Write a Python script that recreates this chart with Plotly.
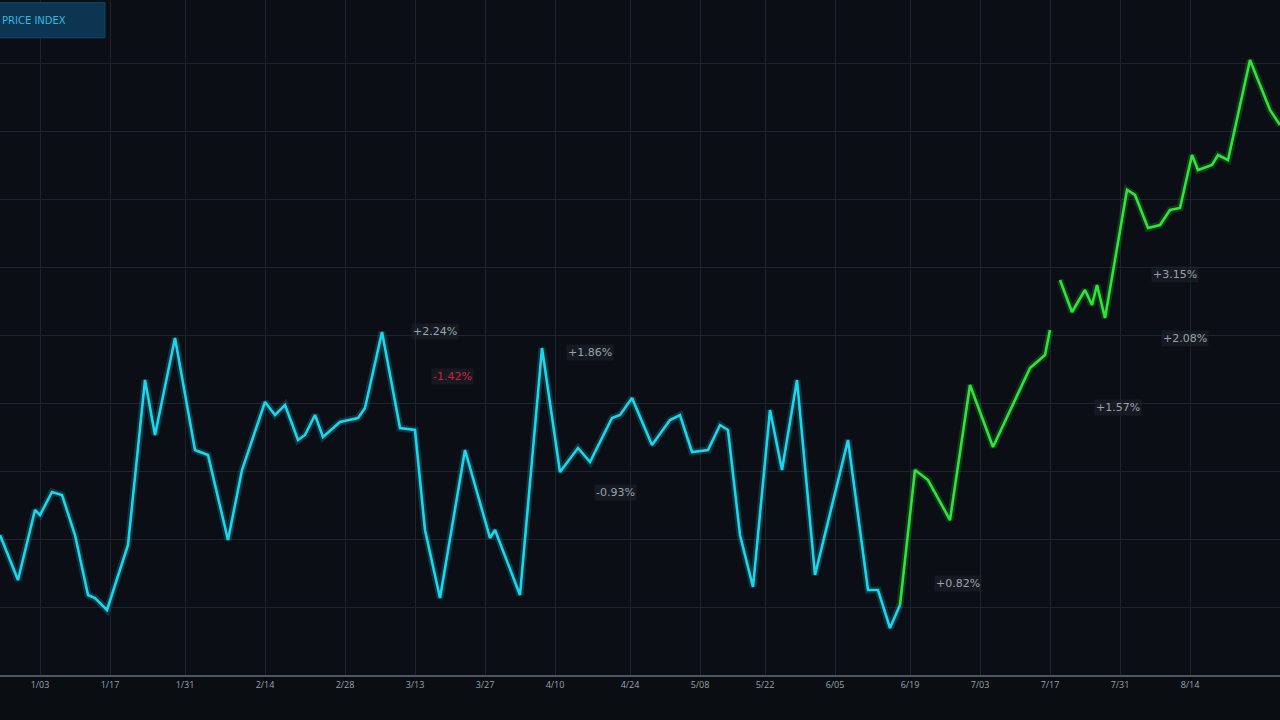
import plotly.graph_objects as go

cyan_x = [0,18,35,40,52,62,75,88,95,107,128,145,155,175,195,208,228,242,265,275,285,298,305,315,323,340,358,365,382,400,415,425,440,465,490,495,520,542,560,578,590,612,620,632,652,670,680,692,708,720,728,740,753,770,782,797,815,848,868,878,890,900]
cyan_y = [140,95,165,160,183,180,140,80,77,65,130,295,240,337,225,220,135,205,273,260,270,235,240,260,238,253,257,267,343,247,245,145,77,225,137,145,80,327,203,227,213,257,260,277,230,255,260,223,225,250,245,140,88,265,205,295,100,235,85,85,47,70]
green_a_x = [900,915,928,950,970,993,1030,1045,1050]
green_a_y = [70,205,195,155,290,228,307,320,345]
green_b_x = [1060,1072,1085,1092,1097,1105,1127,1135,1148,1160,1170,1180,1192,1198,1212,1218,1228,1250,1270,1280]
green_b_y = [395,363,385,370,390,357,485,480,447,450,465,467,520,505,510,520,515,615,565,550]

tick_pos = [40,110,185,265,345,415,485,555,630,700,765,835,910,980,1050,1120,1190]
tick_text = ["1/03","1/17","1/31","2/14","2/28","3/13","3/27","4/10","4/24","5/08","5/22","6/05","6/19","7/03","7/17","7/31","8/14"]

labels = ["+2.24%","-1.42%","+1.86%","-0.93%","+3.15%","+2.08%","+1.57%","+0.82%"]
label_x = [435,452,590,615,1175,1185,1118,958]
label_y = [344,299,323,183,401,337,268,92]
label_col = ["#9aa3ab","#d0203a","#9aa3ab","#9aa3ab","#9aa3ab","#9aa3ab","#9aa3ab","#9aa3ab"]

fig = go.Figure()
for xs, ys, c in [(cyan_x, cyan_y, "#19d8ee"), (green_a_x, green_a_y, "#2ee63a"), (green_b_x, green_b_y, "#2ee63a")]:
    fig.add_trace(go.Scatter(x=xs, y=ys, mode="lines", line=dict(color=c, width=7), opacity=0.18, hoverinfo="skip"))
    fig.add_trace(go.Scatter(x=xs, y=ys, mode="lines", line=dict(color=c, width=2.6)))

for t, x, y, c in zip(labels, label_x, label_y, label_col):
    fig.add_annotation(x=x, y=y, text=t, showarrow=False, font=dict(color=c, size=11, family="DejaVu Sans"),
                       bgcolor="rgba(30,34,40,0.6)")

fig.add_shape(type="rect", xref="paper", yref="paper", x0=-0.01, x1=0.082, y0=0.944, y1=0.996,
              fillcolor="#0b3550", line=dict(color="#0f4a6a", width=1), layer="above")
fig.add_annotation(xref="paper", yref="paper", x=0.0, y=0.97, xanchor="left", yanchor="middle", text="PRICE INDEX",
                   showarrow=False, font=dict(color="#34b8e0", size=10, family="DejaVu Sans"))

fig.update_layout(
    width=1280, height=720, showlegend=False,
    paper_bgcolor="#0a0d12", plot_bgcolor="#0b0f15",
    margin=dict(l=0, r=0, t=0, b=45, pad=0),
    xaxis=dict(range=[0,1280], tickvals=tick_pos, ticktext=tick_text, showgrid=True,
               gridcolor="#1a2530", gridwidth=1, zeroline=False, showline=True, linecolor="#4a5560", linewidth=2,
               tickfont=dict(color="#9aa3ab", size=9), ticks=""),
    yaxis=dict(range=[0,675], showgrid=True, gridcolor="#1a2530", dtick=68, zeroline=False, showticklabels=False),
)
fig.write_html("out.html", config={"displayModeBar": False},
               post_script="document.body.style.margin='0';document.body.style.background='#0a0d12';")
